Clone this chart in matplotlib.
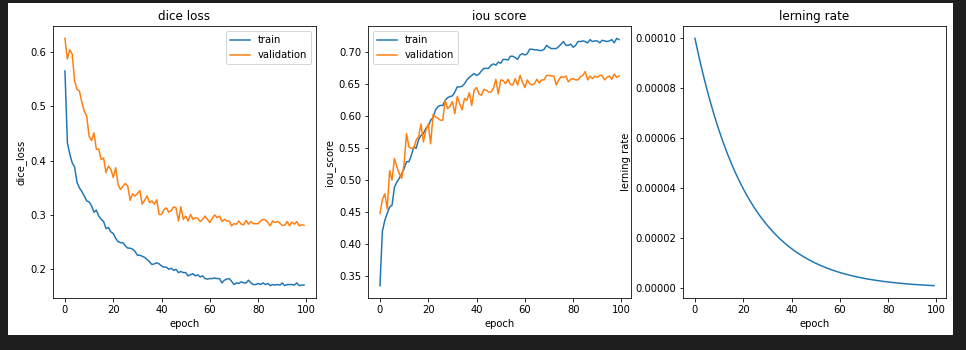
import matplotlib
matplotlib.use("Agg")
import matplotlib.pyplot as plt
from matplotlib.patches import Rectangle

epochs = list(range(100))

dice_train = [0.565, 0.433, 0.412, 0.396, 0.388, 0.360, 0.350, 0.343, 0.335, 0.326,
              0.324, 0.317, 0.305, 0.309, 0.298, 0.292, 0.288, 0.275, 0.277, 0.269,
              0.266, 0.257, 0.251, 0.249, 0.249, 0.243, 0.239, 0.239, 0.237, 0.233,
              0.226, 0.226, 0.224, 0.222, 0.218, 0.214, 0.209, 0.210, 0.212, 0.210,
              0.206, 0.204, 0.204, 0.200, 0.202, 0.198, 0.200, 0.194, 0.196, 0.194,
              0.194, 0.188, 0.190, 0.192, 0.188, 0.190, 0.186, 0.188, 0.183, 0.182,
              0.183, 0.183, 0.184, 0.183, 0.183, 0.175, 0.180, 0.182, 0.183, 0.178,
              0.172, 0.175, 0.174, 0.177, 0.175, 0.175, 0.180, 0.175, 0.172, 0.172,
              0.174, 0.172, 0.175, 0.172, 0.174, 0.170, 0.172, 0.171, 0.172, 0.171,
              0.175, 0.170, 0.172, 0.172, 0.172, 0.171, 0.175, 0.170, 0.171, 0.171]

dice_val = [0.625, 0.587, 0.604, 0.596, 0.547, 0.531, 0.528, 0.507, 0.491, 0.482,
            0.445, 0.437, 0.451, 0.421, 0.421, 0.402, 0.405, 0.378, 0.390, 0.384,
            0.369, 0.387, 0.356, 0.347, 0.353, 0.358, 0.353, 0.327, 0.339, 0.335,
            0.339, 0.345, 0.320, 0.327, 0.335, 0.323, 0.326, 0.320, 0.328, 0.301,
            0.301, 0.310, 0.313, 0.305, 0.308, 0.315, 0.313, 0.289, 0.315, 0.292,
            0.298, 0.289, 0.301, 0.292, 0.295, 0.294, 0.288, 0.292, 0.298, 0.292,
            0.286, 0.294, 0.300, 0.295, 0.298, 0.288, 0.292, 0.289, 0.289, 0.280,
            0.284, 0.283, 0.289, 0.283, 0.282, 0.290, 0.283, 0.288, 0.284, 0.284,
            0.284, 0.289, 0.292, 0.291, 0.286, 0.280, 0.289, 0.286, 0.288, 0.285,
            0.281, 0.281, 0.288, 0.280, 0.287, 0.283, 0.288, 0.280, 0.282, 0.281]

iou_train = [0.335, 0.420, 0.437, 0.448, 0.458, 0.461, 0.489, 0.497, 0.503, 0.510,
             0.518, 0.529, 0.529, 0.539, 0.552, 0.550, 0.564, 0.570, 0.573, 0.581,
             0.585, 0.594, 0.598, 0.610, 0.615, 0.617, 0.617, 0.625, 0.629, 0.631,
             0.632, 0.638, 0.646, 0.646, 0.647, 0.651, 0.657, 0.661, 0.664, 0.667,
             0.664, 0.666, 0.671, 0.675, 0.675, 0.675, 0.680, 0.682, 0.680, 0.685,
             0.683, 0.689, 0.689, 0.688, 0.694, 0.694, 0.692, 0.689, 0.696, 0.698,
             0.696, 0.698, 0.705, 0.705, 0.704, 0.704, 0.703, 0.703, 0.705, 0.711,
             0.708, 0.706, 0.706, 0.706, 0.709, 0.713, 0.717, 0.711, 0.711, 0.713,
             0.708, 0.711, 0.717, 0.717, 0.718, 0.717, 0.715, 0.720, 0.717, 0.718,
             0.718, 0.715, 0.719, 0.718, 0.717, 0.718, 0.720, 0.715, 0.722, 0.720]

iou_val = [0.448, 0.469, 0.479, 0.455, 0.515, 0.500, 0.534, 0.521, 0.510, 0.503,
           0.526, 0.573, 0.552, 0.550, 0.550, 0.563, 0.568, 0.588, 0.560, 0.578,
           0.588, 0.557, 0.603, 0.599, 0.597, 0.594, 0.594, 0.625, 0.612, 0.616,
           0.623, 0.604, 0.631, 0.620, 0.610, 0.628, 0.625, 0.637, 0.617, 0.641,
           0.645, 0.635, 0.633, 0.642, 0.641, 0.638, 0.638, 0.644, 0.658, 0.635,
           0.657, 0.656, 0.651, 0.658, 0.650, 0.649, 0.659, 0.649, 0.664, 0.654,
           0.645, 0.657, 0.651, 0.649, 0.651, 0.658, 0.652, 0.657, 0.657, 0.664,
           0.664, 0.663, 0.663, 0.649, 0.657, 0.662, 0.661, 0.663, 0.654, 0.658,
           0.659, 0.657, 0.657, 0.662, 0.664, 0.670, 0.657, 0.663, 0.659, 0.663,
           0.661, 0.664, 0.664, 0.657, 0.661, 0.663, 0.658, 0.666, 0.661, 0.663]

# learning rate in units of 1e-6
lr_micro = [100.0, 95.5, 91.20, 87.10, 83.18, 79.44, 75.86, 72.45, 69.19, 66.07,
            63.10, 60.26, 57.55, 54.96, 52.49, 50.13, 47.87, 45.72, 43.66, 41.70,
            39.82, 38.03, 36.32, 34.68, 33.12, 31.63, 30.21, 28.85, 27.55, 26.31,
            25.13, 24.00, 22.92, 21.89, 20.90, 19.96, 19.06, 18.21, 17.39, 16.60,
            15.86, 15.14, 14.46, 13.81, 13.19, 12.60, 12.03, 11.49, 10.97, 10.48,
            10.01, 9.56, 9.13, 8.72, 8.32, 7.95, 7.59, 7.25, 6.92, 6.61,
            6.31, 6.03, 5.76, 5.50, 5.25, 5.01, 4.79, 4.57, 4.37, 4.17,
            3.98, 3.80, 3.63, 3.47, 3.31, 3.16, 3.02, 2.88, 2.75, 2.63,
            2.51, 2.40, 2.29, 2.19, 2.09, 2.00, 1.91, 1.82, 1.74, 1.66,
            1.59, 1.51, 1.45, 1.38, 1.32, 1.26, 1.20, 1.15, 1.10, 1.05]
lr = [v * 1e-6 for v in lr_micro]

W, H = 966, 350
DPI = 72
fig = plt.figure(figsize=(W / DPI, H / DPI), dpi=DPI)
fig.patch.set_facecolor('#1e1e1e')
fig.add_artist(Rectangle((8 / W, (H - 335) / H), (953 - 8) / W, (335 - 3) / H,
                         transform=fig.transFigure, facecolor='white',
                         edgecolor='none', zorder=-10))

def add_ax(left_px):
    return fig.add_axes([left_px / W, (H - 298) / H, 263 / W, 272 / H])

ax1 = add_ax(53)
ax1.plot(epochs, dice_train, label='train')
ax1.plot(epochs, dice_val, label='validation')
ax1.set_title('dice loss')
ax1.set_xlabel('epoch')
ax1.set_ylabel('dice_loss')
ax1.legend(loc='upper right')

ax2 = add_ax(368)
ax2.plot(epochs, iou_train, label='train')
ax2.plot(epochs, iou_val, label='validation')
ax2.set_title('iou score')
ax2.set_xlabel('epoch')
ax2.set_ylabel('iou_score')
ax2.legend(loc='upper left')

ax3 = add_ax(683)
ax3.plot(epochs, lr)
ax3.set_title('lerning rate')
ax3.set_xlabel('epoch')
ax3.set_ylabel('lerning rate')

fig.savefig('out.png', dpi=DPI, facecolor=fig.get_facecolor())
